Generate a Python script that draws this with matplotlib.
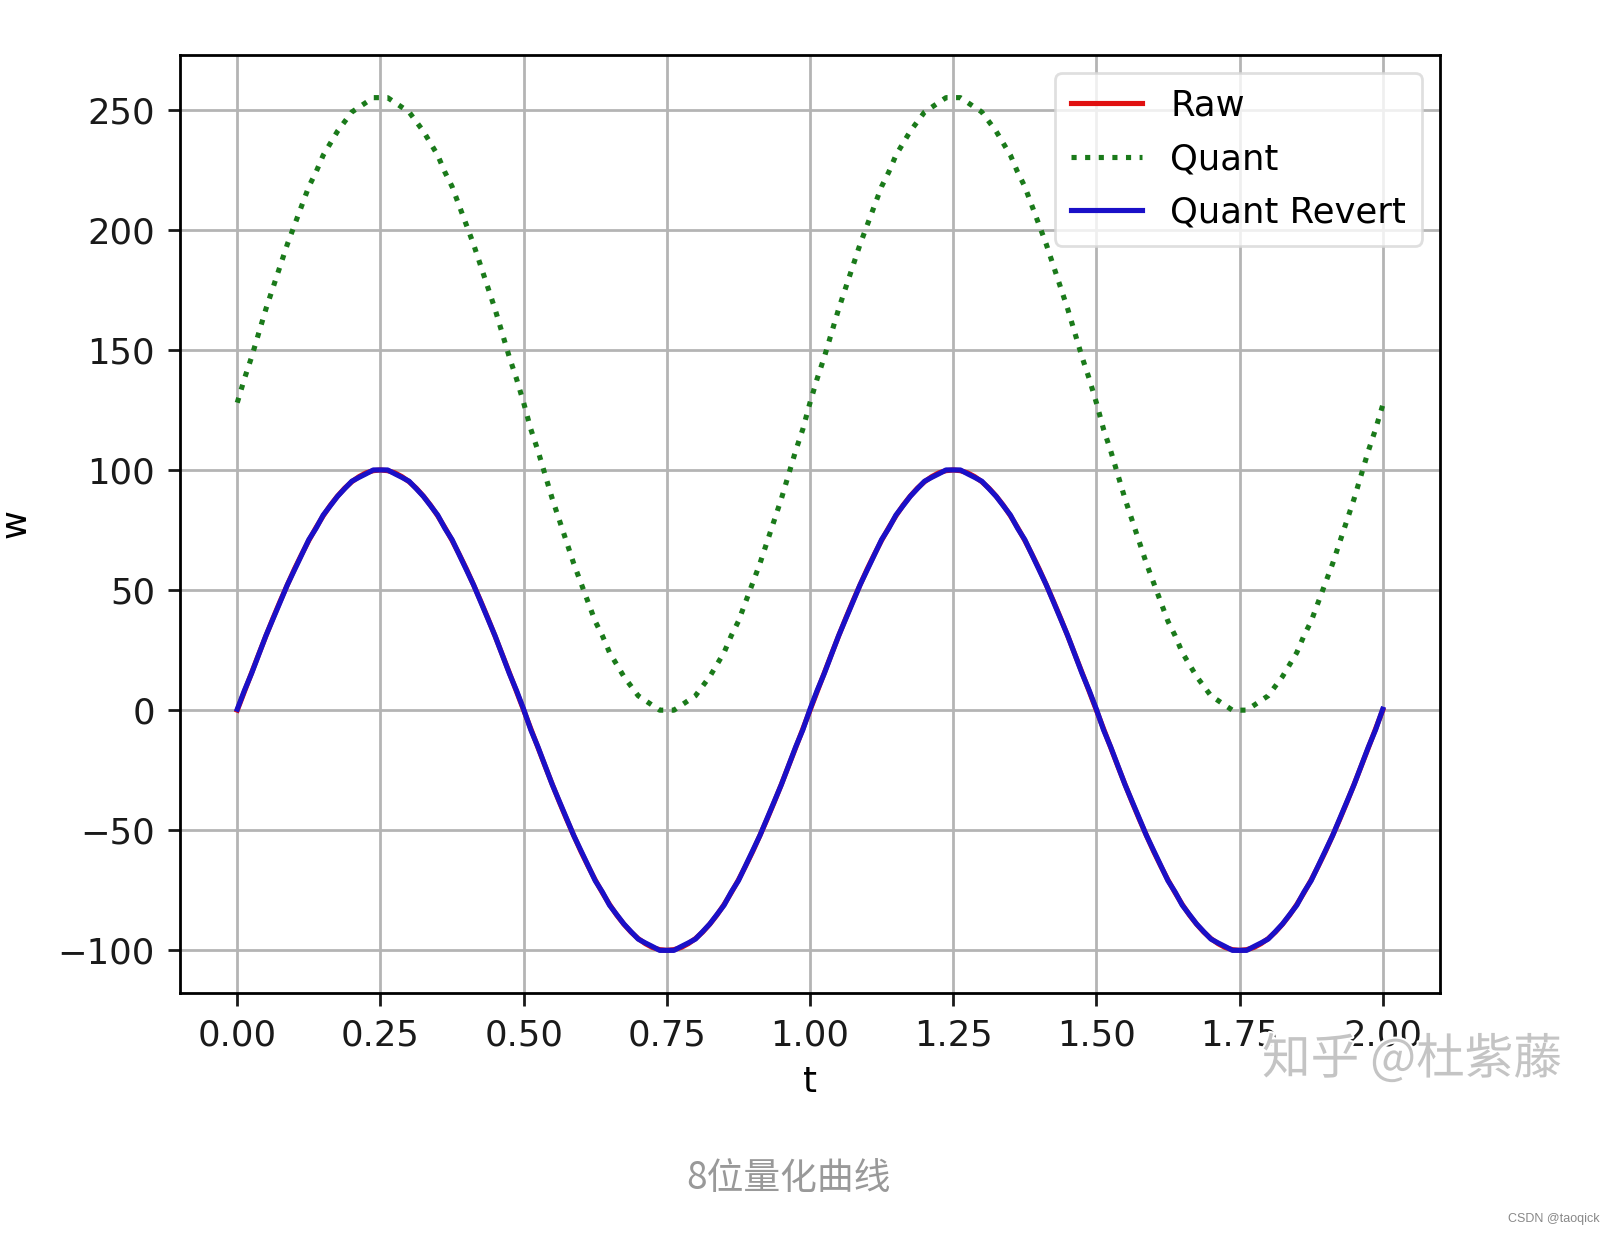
import matplotlib
matplotlib.use("Agg")
import matplotlib.pyplot as plt
import matplotlib.patheffects as pe

plt.rcParams['font.family'] = ['DejaVu Sans', 'Noto Sans CJK SC']

# time samples (step 0.0125, 161 samples from 0 to 2)
t = [round(i * 0.0125, 4) for i in range(161)]

raw = [0, 7.8, 15.6, 23.3, 30.9, 38.3, 45.4, 52.2, 58.8, 64.9,
       70.7, 76.0, 80.9, 85.3, 89.1, 92.4, 95.1, 97.2, 98.8, 99.7,
       100, 99.7, 98.8, 97.2, 95.1, 92.4, 89.1, 85.3, 80.9, 76.0,
       70.7, 64.9, 58.8, 52.2, 45.4, 38.3, 30.9, 23.3, 15.6, 7.8,
       0, -7.8, -15.6, -23.3, -30.9, -38.3, -45.4, -52.2, -58.8, -64.9,
       -70.7, -76.0, -80.9, -85.3, -89.1, -92.4, -95.1, -97.2, -98.8, -99.7,
       -100, -99.7, -98.8, -97.2, -95.1, -92.4, -89.1, -85.3, -80.9, -76.0,
       -70.7, -64.9, -58.8, -52.2, -45.4, -38.3, -30.9, -23.3, -15.6, -7.8,
       0, 7.8, 15.6, 23.3, 30.9, 38.3, 45.4, 52.2, 58.8, 64.9,
       70.7, 76.0, 80.9, 85.3, 89.1, 92.4, 95.1, 97.2, 98.8, 99.7,
       100, 99.7, 98.8, 97.2, 95.1, 92.4, 89.1, 85.3, 80.9, 76.0,
       70.7, 64.9, 58.8, 52.2, 45.4, 38.3, 30.9, 23.3, 15.6, 7.8,
       0, -7.8, -15.6, -23.3, -30.9, -38.3, -45.4, -52.2, -58.8, -64.9,
       -70.7, -76.0, -80.9, -85.3, -89.1, -92.4, -95.1, -97.2, -98.8, -99.7,
       -100, -99.7, -98.8, -97.2, -95.1, -92.4, -89.1, -85.3, -80.9, -76.0,
       -70.7, -64.9, -58.8, -52.2, -45.4, -38.3, -30.9, -23.3, -15.6, -7.8,
       0]

quant = [128, 138, 147, 157, 167, 176, 185, 194, 202, 210,
         218, 224, 231, 236, 241, 245, 249, 251, 253, 255,
         255, 255, 253, 251, 249, 245, 241, 236, 231, 224,
         218, 210, 202, 194, 185, 176, 167, 157, 147, 138,
         128, 117, 108, 98, 88, 79, 70, 61, 53, 45,
         37, 31, 24, 19, 14, 10, 6, 4, 2, 0,
         0, 0, 2, 4, 6, 10, 14, 19, 24, 31,
         37, 45, 53, 61, 70, 79, 88, 98, 108, 117,
         128, 138, 147, 157, 167, 176, 185, 194, 202, 210,
         218, 224, 231, 236, 241, 245, 249, 251, 253, 255,
         255, 255, 253, 251, 249, 245, 241, 236, 231, 224,
         218, 210, 202, 194, 185, 176, 167, 157, 147, 138,
         128, 117, 108, 98, 88, 79, 70, 61, 53, 45,
         37, 31, 24, 19, 14, 10, 6, 4, 2, 0,
         0, 0, 2, 4, 6, 10, 14, 19, 24, 31,
         37, 45, 53, 61, 70, 79, 88, 98, 108, 117,
         127]

quant_revert = [0.4, 8.2, 15.3, 23.1, 31.0, 38.0, 45.1, 52.2, 58.4, 64.7,
                71.0, 75.7, 81.2, 85.1, 89.0, 92.2, 95.3, 96.9, 98.4, 100,
                100, 100, 98.4, 96.9, 95.3, 92.2, 89.0, 85.1, 81.2, 75.7,
                71.0, 64.7, 58.4, 52.2, 45.1, 38.0, 31.0, 23.1, 15.3, 8.2,
                0.4, -8.2, -15.3, -23.1, -31.0, -38.0, -45.1, -52.2, -58.4, -64.7,
                -71.0, -75.7, -81.2, -85.1, -89.0, -92.2, -95.3, -96.9, -98.4, -100,
                -100, -100, -98.4, -96.9, -95.3, -92.2, -89.0, -85.1, -81.2, -75.7,
                -71.0, -64.7, -58.4, -52.2, -45.1, -38.0, -31.0, -23.1, -15.3, -8.2,
                0.4, 8.2, 15.3, 23.1, 31.0, 38.0, 45.1, 52.2, 58.4, 64.7,
                71.0, 75.7, 81.2, 85.1, 89.0, 92.2, 95.3, 96.9, 98.4, 100,
                100, 100, 98.4, 96.9, 95.3, 92.2, 89.0, 85.1, 81.2, 75.7,
                71.0, 64.7, 58.4, 52.2, 45.1, 38.0, 31.0, 23.1, 15.3, 8.2,
                0.4, -8.2, -15.3, -23.1, -31.0, -38.0, -45.1, -52.2, -58.4, -64.7,
                -71.0, -75.7, -81.2, -85.1, -89.0, -92.2, -95.3, -96.9, -98.4, -100,
                -100, -100, -98.4, -96.9, -95.3, -92.2, -89.0, -85.1, -81.2, -75.7,
                -71.0, -64.7, -58.4, -52.2, -45.1, -38.0, -31.0, -23.1, -15.3, -8.2,
                0.4]

series_labels = ["Raw", "Quant", "Quant Revert"]
x_ticks = [0, 0.25, 0.5, 0.75, 1.0, 1.25, 1.5, 1.75, 2.0]
caption = "8位量化曲线"
watermark = "知乎 @杜紫藤"
credit = "CSDN @taoqick"

fig = plt.figure(figsize=(16.16, 12.36), dpi=100)
ax = fig.add_axes([180 / 1616, 1 - 993 / 1236, 1260 / 1616, (993 - 55) / 1236])

lw = 3.7
ax.plot(t, raw, color='#e01010', lw=lw, label=series_labels[0])
ax.plot(t, quant, color='#1a7a1a', lw=lw, linestyle=':', label=series_labels[1])
ax.plot(t, quant_revert, color='#1a10c8', lw=lw, label=series_labels[2])

ax.grid(True, color='#b4b4b4', lw=2.0)
ax.set_axisbelow(True)
for s in ax.spines.values():
    s.set_linewidth(2.0)
ax.tick_params(labelsize=25.5, width=2.0, length=9, pad=9, colors='#1a1a1a')
ax.set_xticks(x_ticks)
ax.set_xlabel("t", fontsize=25.5, labelpad=9)
ax.set_ylabel("w", fontsize=25.5, labelpad=18)

leg = ax.legend(loc='upper right', fontsize=25.5, handlelength=2.0, handletextpad=0.8,
                borderpad=0.45, labelspacing=0.55, framealpha=0.8, fancybox=True,
                borderaxespad=0.5)
leg.get_frame().set_linewidth(2.0)
leg.get_frame().set_edgecolor('#d8d8d8')

fig.text(788 / 1616, 1 - 1178 / 1236, caption, ha='center', va='center',
         fontsize=26.5, color='#999999', family=['Noto Sans CJK SC', 'DejaVu Sans'])
fig.text(1412 / 1616, 1 - 1060 / 1236, watermark, ha='center', va='center',
         fontsize=35, color='#c4c4c4', family=['Noto Sans CJK SC', 'DejaVu Sans'],
         path_effects=[pe.withStroke(linewidth=3, foreground='white')])
fig.text(1600 / 1616, 1 - 1219 / 1236, credit, ha='right', va='center',
         fontsize=9, color='#888888', family=['Liberation Sans', 'DejaVu Sans'])

fig.savefig("out.png", dpi=100, facecolor='white')
